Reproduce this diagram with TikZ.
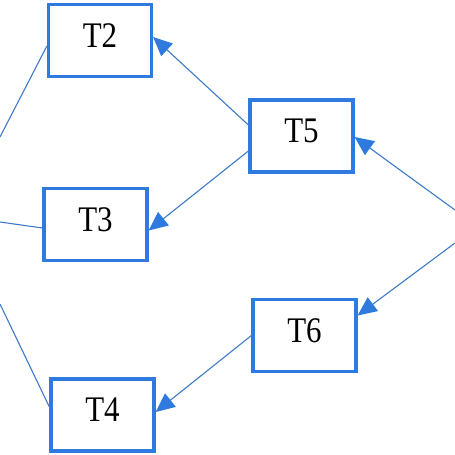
\documentclass[tikz,border=0pt]{standalone}
\usepackage{fontspec}
\setmainfont{Liberation Serif}
\usetikzlibrary{arrows.meta,calc}
\definecolor{boxblue}{RGB}{46,122,222}
\definecolor{lineblue}{RGB}{62,122,200}
\newcommand\tlabel[1]{\scalebox{0.86}[1]{#1}}
\begin{document}
\begin{tikzpicture}[x=1pt,y=-1pt,
  taskbox/.style={draw=boxblue, line width=3.2pt, minimum width=103pt, minimum height=72pt,
    inner sep=0pt, text depth=10pt, font=\fontsize{36}{40}\selectfont},
  conn/.style={draw=lineblue, line width=1.1pt},
  arr/.style={conn, -{Triangle[length=19pt,width=17pt,color=boxblue]}}]
\useasboundingbox (0,0) rectangle (455,455);
\node[taskbox] (T2) at (100,40.5) {\tlabel{T2}};
\node[taskbox] (T3) at (95.5,224.5) {\tlabel{T3}};
\node[taskbox] (T4) at (102.5,415) {\tlabel{T4}};
\node[taskbox] (T5) at (301.5,136) {\tlabel{T5}};
\node[taskbox] (T6) at (304.5,335.5) {\tlabel{T6}};
\coordinate (L1) at (0,137);
\coordinate (L2) at (0,222);
\coordinate (L3) at (0,304);
\coordinate (R1) at (455,210);
\coordinate (R2) at (455,243);
\draw[conn] (L1) -- ($(T2.west)+(0,5.5)$);
\draw[conn] (L2) -- ($(T3.west)+(0,3.5)$);
\draw[conn] (L3) -- ($(T4.west)+(0,-8)$);
\draw[arr] ($(T5.west)+(0,-11)$) -- ($(T2.east)+(0,-3.5)$);
\draw[arr] ($(T5.west)+(0,15)$) -- ($(T3.east)+(0,6)$);
\draw[arr] (R1) -- ($(T5.east)+(0,1)$);
\draw[arr] (R2) -- ($(T6.east)+(0,-20)$);
\draw[arr] (T6.west) -- ($(T4.east)+(0,-3)$);
\end{tikzpicture}
\end{document}
